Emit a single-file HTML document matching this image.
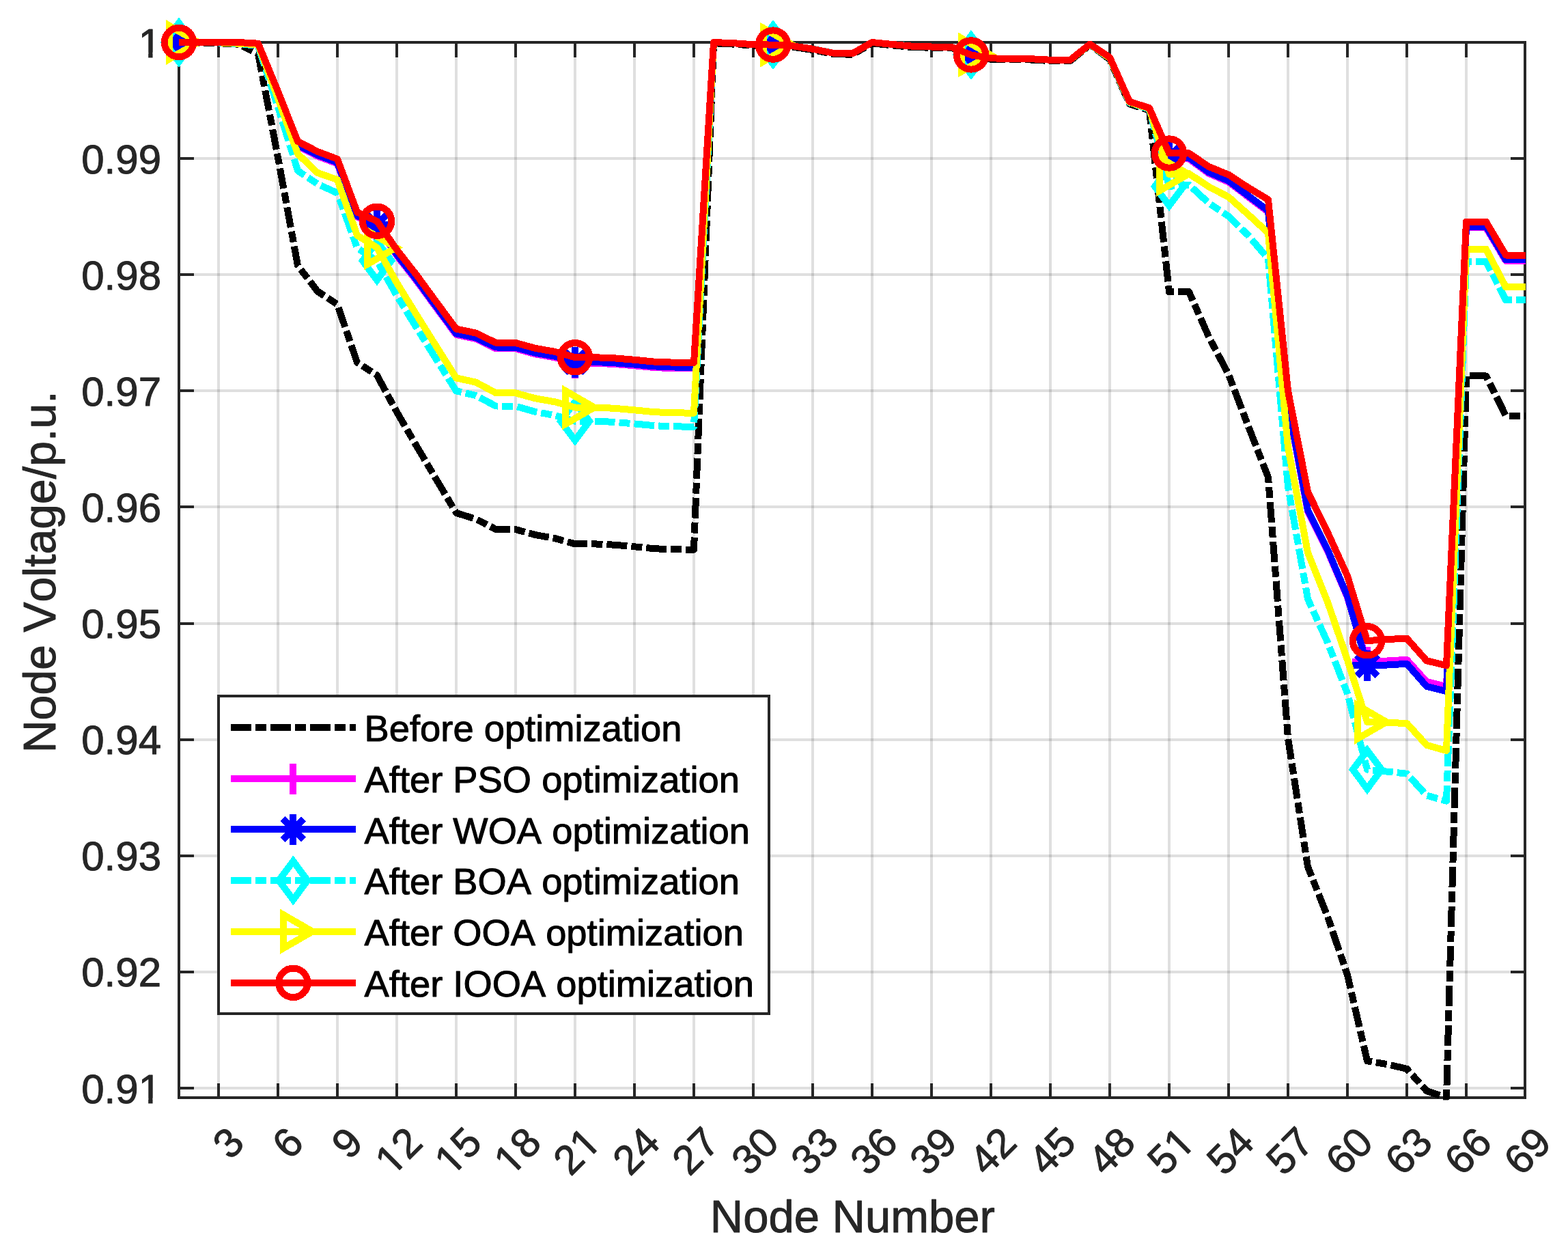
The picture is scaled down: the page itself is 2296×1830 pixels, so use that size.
<!DOCTYPE html>
<html lang="en"><head><meta charset="utf-8"><title>Node Voltage</title>
<style>html,body{margin:0;padding:0;background:#fff}body{width:2296px;height:1830px;overflow:hidden}svg{display:block}text{font-family:'Liberation Sans', sans-serif;stroke-width:1px;stroke-linejoin:round;font-kerning:none}</style>
</head><body>
<svg width="2296" height="1830" viewBox="0 0 2296 1830" shape-rendering="crispEdges" role="img" aria-label="Node voltage profile before and after optimization">
<rect width="2296" height="1830" fill="#fff"/>
<g stroke="#262626" stroke-opacity="0.15" stroke-width="4.0" fill="none">
<path d="M320.0,62.0 V1606.5"/>
<path d="M407.0,62.0 V1606.5"/>
<path d="M494.0,62.0 V1606.5"/>
<path d="M581.0,62.0 V1606.5"/>
<path d="M668.0,62.0 V1606.5"/>
<path d="M755.0,62.0 V1606.5"/>
<path d="M842.0,62.0 V1606.5"/>
<path d="M929.0,62.0 V1606.5"/>
<path d="M1016.0,62.0 V1606.5"/>
<path d="M1103.0,62.0 V1606.5"/>
<path d="M1190.0,62.0 V1606.5"/>
<path d="M1277.0,62.0 V1606.5"/>
<path d="M1364.0,62.0 V1606.5"/>
<path d="M1451.0,62.0 V1606.5"/>
<path d="M1538.0,62.0 V1606.5"/>
<path d="M1625.0,62.0 V1606.5"/>
<path d="M1712.0,62.0 V1606.5"/>
<path d="M1799.0,62.0 V1606.5"/>
<path d="M1886.0,62.0 V1606.5"/>
<path d="M1973.0,62.0 V1606.5"/>
<path d="M2060.0,62.0 V1606.5"/>
<path d="M2147.0,62.0 V1606.5"/>
<path d="M262.2,232.1 H2233.0"/>
<path d="M262.2,402.2 H2233.0"/>
<path d="M262.2,572.3 H2233.0"/>
<path d="M262.2,742.4 H2233.0"/>
<path d="M262.2,912.6 H2233.0"/>
<path d="M262.2,1082.7 H2233.0"/>
<path d="M262.2,1252.8 H2233.0"/>
<path d="M262.2,1422.9 H2233.0"/>
<path d="M262.2,1593.0 H2233.0"/>
</g>
<g stroke="#262626" stroke-width="4.0" fill="none" stroke-linecap="square">
<rect x="262.2" y="62.0" width="1970.8" height="1544.5"/>
</g>
<path d="M320.0,62.0 v21.5 M320.0,1606.5 v-20.5 M407.0,62.0 v21.5 M407.0,1606.5 v-20.5 M494.0,62.0 v21.5 M494.0,1606.5 v-20.5 M581.0,62.0 v21.5 M581.0,1606.5 v-20.5 M668.0,62.0 v21.5 M668.0,1606.5 v-20.5 M755.0,62.0 v21.5 M755.0,1606.5 v-20.5 M842.0,62.0 v21.5 M842.0,1606.5 v-20.5 M929.0,62.0 v21.5 M929.0,1606.5 v-20.5 M1016.0,62.0 v21.5 M1016.0,1606.5 v-20.5 M1103.0,62.0 v21.5 M1103.0,1606.5 v-20.5 M1190.0,62.0 v21.5 M1190.0,1606.5 v-20.5 M1277.0,62.0 v21.5 M1277.0,1606.5 v-20.5 M1364.0,62.0 v21.5 M1364.0,1606.5 v-20.5 M1451.0,62.0 v21.5 M1451.0,1606.5 v-20.5 M1538.0,62.0 v21.5 M1538.0,1606.5 v-20.5 M1625.0,62.0 v21.5 M1625.0,1606.5 v-20.5 M1712.0,62.0 v21.5 M1712.0,1606.5 v-20.5 M1799.0,62.0 v21.5 M1799.0,1606.5 v-20.5 M1886.0,62.0 v21.5 M1886.0,1606.5 v-20.5 M1973.0,62.0 v21.5 M1973.0,1606.5 v-20.5 M2060.0,62.0 v21.5 M2060.0,1606.5 v-20.5 M2147.0,62.0 v21.5 M2147.0,1606.5 v-20.5 M262.2,232.1 h21.5 M2233.0,232.1 h-21.5 M262.2,402.2 h21.5 M2233.0,402.2 h-21.5 M262.2,572.3 h21.5 M2233.0,572.3 h-21.5 M262.2,742.4 h21.5 M2233.0,742.4 h-21.5 M262.2,912.6 h21.5 M2233.0,912.6 h-21.5 M262.2,1082.7 h21.5 M2233.0,1082.7 h-21.5 M262.2,1252.8 h21.5 M2233.0,1252.8 h-21.5 M262.2,1422.9 h21.5 M2233.0,1422.9 h-21.5 M262.2,1593.0 h21.5 M2233.0,1593.0 h-21.5" stroke="#262626" stroke-width="4.0" fill="none"/>
<g fill="#262626" stroke="#262626" font-size="60.0px">
<g transform="translate(236.0,83.5)"><text text-anchor="end">1</text><g fill="#fff" stroke="none" shape-rendering="geometricPrecision"><rect x="-30.30" y="-6.88" width="11.47" height="10.08"/><rect x="-12.43" y="-6.88" width="11.00" height="10.08"/></g></g>
<text x="236.0" y="253.6" text-anchor="end">0.99</text>
<text x="236.0" y="423.7" text-anchor="end">0.98</text>
<text x="236.0" y="593.8" text-anchor="end">0.97</text>
<text x="236.0" y="763.9" text-anchor="end">0.96</text>
<text x="236.0" y="934.1" text-anchor="end">0.95</text>
<text x="236.0" y="1104.2" text-anchor="end">0.94</text>
<text x="236.0" y="1274.3" text-anchor="end">0.93</text>
<text x="236.0" y="1444.4" text-anchor="end">0.92</text>
<g transform="translate(236.0,1614.5)"><text text-anchor="end">0.91</text><g fill="#fff" stroke="none" shape-rendering="geometricPrecision"><rect x="-30.30" y="-6.88" width="11.47" height="10.08"/><rect x="-12.43" y="-6.88" width="11.00" height="10.08"/></g></g>
<text transform="translate(360.6,1676.0) rotate(-45)" text-anchor="end">3</text>
<text transform="translate(447.6,1676.0) rotate(-45)" text-anchor="end">6</text>
<text transform="translate(534.6,1676.0) rotate(-45)" text-anchor="end">9</text>
<g transform="translate(621.6,1676.0) rotate(-45)"><text text-anchor="end">12</text><g fill="#fff" stroke="none" shape-rendering="geometricPrecision"><rect x="-63.67" y="-6.88" width="11.47" height="10.08"/><rect x="-45.80" y="-6.88" width="11.00" height="10.08"/></g></g>
<g transform="translate(708.6,1676.0) rotate(-45)"><text text-anchor="end">15</text><g fill="#fff" stroke="none" shape-rendering="geometricPrecision"><rect x="-63.67" y="-6.88" width="11.47" height="10.08"/><rect x="-45.80" y="-6.88" width="11.00" height="10.08"/></g></g>
<g transform="translate(795.6,1676.0) rotate(-45)"><text text-anchor="end">18</text><g fill="#fff" stroke="none" shape-rendering="geometricPrecision"><rect x="-63.67" y="-6.88" width="11.47" height="10.08"/><rect x="-45.80" y="-6.88" width="11.00" height="10.08"/></g></g>
<g transform="translate(882.6,1676.0) rotate(-45)"><text text-anchor="end">21</text><g fill="#fff" stroke="none" shape-rendering="geometricPrecision"><rect x="-30.30" y="-6.88" width="11.47" height="10.08"/><rect x="-12.43" y="-6.88" width="11.00" height="10.08"/></g></g>
<text transform="translate(969.6,1676.0) rotate(-45)" text-anchor="end">24</text>
<text transform="translate(1056.6,1676.0) rotate(-45)" text-anchor="end">27</text>
<text transform="translate(1143.6,1676.0) rotate(-45)" text-anchor="end">30</text>
<text transform="translate(1230.6,1676.0) rotate(-45)" text-anchor="end">33</text>
<text transform="translate(1317.6,1676.0) rotate(-45)" text-anchor="end">36</text>
<text transform="translate(1404.6,1676.0) rotate(-45)" text-anchor="end">39</text>
<text transform="translate(1491.6,1676.0) rotate(-45)" text-anchor="end">42</text>
<text transform="translate(1578.6,1676.0) rotate(-45)" text-anchor="end">45</text>
<text transform="translate(1665.6,1676.0) rotate(-45)" text-anchor="end">48</text>
<g transform="translate(1752.6,1676.0) rotate(-45)"><text text-anchor="end">51</text><g fill="#fff" stroke="none" shape-rendering="geometricPrecision"><rect x="-30.30" y="-6.88" width="11.47" height="10.08"/><rect x="-12.43" y="-6.88" width="11.00" height="10.08"/></g></g>
<text transform="translate(1839.6,1676.0) rotate(-45)" text-anchor="end">54</text>
<text transform="translate(1926.6,1676.0) rotate(-45)" text-anchor="end">57</text>
<text transform="translate(2013.6,1676.0) rotate(-45)" text-anchor="end">60</text>
<text transform="translate(2100.6,1676.0) rotate(-45)" text-anchor="end">63</text>
<text transform="translate(2187.6,1676.0) rotate(-45)" text-anchor="end">66</text>
<text transform="translate(2274.6,1676.0) rotate(-45)" text-anchor="end">69</text>
</g>
<text transform="translate(1248.3,1803.7) scale(1.0000,1)" text-anchor="middle" font-size="67.0px" fill="#262626" stroke="#262626">Node Number</text>
<text transform="translate(80.7,837.3) rotate(-90) scale(0.9880,1)" text-anchor="middle" font-size="67.0px" fill="#262626" stroke="#262626">Node Voltage/p.u.</text>
<defs><clipPath id="cp"><rect x="260.2" y="56.0" width="1974.8" height="1554.5"/></clipPath></defs>
<path d="M262.0,62.0 L291.0,62.5 L320.0,63.2 L349.0,64.7 L378.0,78.7 L407.0,230.6 L436.0,388.8 L465.0,426.5 L494.0,445.8 L523.0,530.7 L552.0,549.4 L581.0,603.1 L610.0,653.0 L639.0,702.1 L668.0,750.9 L697.0,760.0 L726.0,774.9 L755.0,775.1 L784.0,783.1 L813.0,788.2 L842.0,796.4 L871.0,796.4 L900.0,797.7 L929.0,800.3 L958.0,803.2 L987.0,804.4 L1016.0,804.7 L1045.0,63.2 L1074.0,64.6 L1103.0,66.6 L1132.0,66.9 L1161.0,68.6 L1190.0,73.1 L1219.0,78.8 L1248.0,79.9 L1277.0,63.4 L1306.0,66.3 L1335.0,69.0 L1364.0,69.8 L1393.0,69.8 L1422.0,81.7 L1451.0,86.7 L1480.0,87.3 L1509.0,87.5 L1538.0,89.0 L1567.0,89.2 L1596.0,65.6 L1625.0,86.8 L1654.0,152.2 L1683.0,161.5 L1712.0,427.1 L1741.0,427.2 L1770.0,493.1 L1799.0,548.3 L1828.0,624.4 L1857.0,698.7 L1886.0,1081.0 L1915.0,1269.1 L1944.0,1341.9 L1973.0,1427.3 L2002.0,1553.2 L2031.0,1558.1 L2060.0,1564.8 L2089.0,1597.1 L2118.0,1606.8 L2147.0,550.4 L2176.0,550.4 L2205.0,608.7 L2234.0,608.7" fill="none" stroke="#000000" stroke-width="10.0" stroke-linejoin="round" stroke-miterlimit="4" stroke-dasharray="30 6 16 6" clip-path="url(#cp)"/>
<path d="M262.0,62.0 L291.0,62.0 L320.0,62.0 L349.0,62.0 L378.0,63.7 L407.0,140.8 L436.0,213.9 L465.0,228.7 L494.0,239.6 L523.0,317.5 L552.0,330.6 L581.0,374.2 L610.0,411.2 L639.0,450.8 L668.0,490.0 L697.0,496.1 L726.0,510.2 L755.0,510.4 L784.0,518.4 L813.0,523.5 L842.0,531.7 L871.0,531.7 L900.0,533.0 L929.0,535.3 L958.0,538.1 L987.0,539.2 L1016.0,539.5 L1045.0,62.0 L1074.0,63.2 L1103.0,65.2 L1132.0,65.6 L1161.0,67.3 L1190.0,71.7 L1219.0,77.5 L1248.0,78.5 L1277.0,62.0 L1306.0,64.9 L1335.0,67.6 L1364.0,68.5 L1393.0,68.5 L1422.0,80.4 L1451.0,85.3 L1480.0,86.0 L1509.0,86.2 L1538.0,87.7 L1567.0,87.9 L1596.0,64.6 L1625.0,84.1 L1654.0,148.8 L1683.0,158.1 L1712.0,231.3 L1741.0,232.5 L1770.0,253.9 L1799.0,266.5 L1828.0,288.4 L1857.0,310.2 L1886.0,592.7 L1915.0,748.6 L1944.0,806.6 L1973.0,874.6 L2002.0,969.2 L2031.0,967.5 L2060.0,965.8 L2089.0,998.0 L2118.0,1005.3 L2147.0,333.2 L2176.0,333.2 L2205.0,382.1 L2234.0,382.1" fill="none" stroke="#ff00ff" stroke-width="10.0" stroke-linejoin="round" stroke-miterlimit="4" clip-path="url(#cp)"/>
<path d="M239.5,62.0 H284.5 M262.0,39.5 V84.5" fill="none" stroke="#ff00ff" stroke-width="10.0" stroke-linejoin="miter" stroke-miterlimit="10"/>
<path d="M529.5,330.6 H574.5 M552.0,308.1 V353.1" fill="none" stroke="#ff00ff" stroke-width="10.0" stroke-linejoin="miter" stroke-miterlimit="10"/>
<path d="M819.5,531.7 H864.5 M842.0,509.2 V554.2" fill="none" stroke="#ff00ff" stroke-width="10.0" stroke-linejoin="miter" stroke-miterlimit="10"/>
<path d="M1109.5,65.6 H1154.5 M1132.0,43.1 V88.1" fill="none" stroke="#ff00ff" stroke-width="10.0" stroke-linejoin="miter" stroke-miterlimit="10"/>
<path d="M1399.5,80.4 H1444.5 M1422.0,57.9 V102.9" fill="none" stroke="#ff00ff" stroke-width="10.0" stroke-linejoin="miter" stroke-miterlimit="10"/>
<path d="M1689.5,231.3 H1734.5 M1712.0,208.8 V253.8" fill="none" stroke="#ff00ff" stroke-width="10.0" stroke-linejoin="miter" stroke-miterlimit="10"/>
<path d="M1979.5,969.2 H2024.5 M2002.0,946.7 V991.7" fill="none" stroke="#ff00ff" stroke-width="10.0" stroke-linejoin="miter" stroke-miterlimit="10"/>
<path d="M262.0,62.0 L291.0,62.0 L320.0,62.0 L349.0,62.0 L378.0,63.7 L407.0,139.1 L436.0,212.2 L465.0,227.0 L494.0,237.9 L523.0,315.8 L552.0,328.9 L581.0,372.5 L610.0,409.5 L639.0,449.1 L668.0,488.3 L697.0,494.4 L726.0,508.5 L755.0,508.7 L784.0,516.7 L813.0,521.8 L842.0,530.0 L871.0,530.0 L900.0,531.3 L929.0,533.6 L958.0,536.4 L987.0,537.5 L1016.0,537.8 L1045.0,62.0 L1074.0,63.2 L1103.0,65.2 L1132.0,65.6 L1161.0,67.3 L1190.0,71.7 L1219.0,77.5 L1248.0,78.5 L1277.0,62.0 L1306.0,64.9 L1335.0,67.6 L1364.0,68.5 L1393.0,68.5 L1422.0,80.4 L1451.0,85.3 L1480.0,86.0 L1509.0,86.2 L1538.0,87.7 L1567.0,87.9 L1596.0,64.6 L1625.0,84.1 L1654.0,148.8 L1683.0,158.1 L1712.0,229.6 L1741.0,230.8 L1770.0,252.2 L1799.0,264.8 L1828.0,286.7 L1857.0,308.5 L1886.0,591.0 L1915.0,746.9 L1944.0,804.9 L1973.0,872.9 L2002.0,974.3 L2031.0,973.5 L2060.0,971.8 L2089.0,1004.8 L2118.0,1012.1 L2147.0,331.5 L2176.0,331.5 L2205.0,380.4 L2234.0,380.4" fill="none" stroke="#0000ff" stroke-width="10.0" stroke-linejoin="round" stroke-miterlimit="4" clip-path="url(#cp)"/>
<path d="M239.5,62.0 H284.5 M262.0,39.5 V84.5 M246.8,46.8 L277.2,77.2 M246.8,77.2 L277.2,46.8" fill="none" stroke="#0000ff" stroke-width="10.0" stroke-linejoin="miter" stroke-miterlimit="10"/>
<path d="M529.5,328.9 H574.5 M552.0,306.4 V351.4 M536.8,313.7 L567.2,344.1 M536.8,344.1 L567.2,313.7" fill="none" stroke="#0000ff" stroke-width="10.0" stroke-linejoin="miter" stroke-miterlimit="10"/>
<path d="M819.5,530.0 H864.5 M842.0,507.5 V552.5 M826.8,514.8 L857.2,545.2 M826.8,545.2 L857.2,514.8" fill="none" stroke="#0000ff" stroke-width="10.0" stroke-linejoin="miter" stroke-miterlimit="10"/>
<path d="M1109.5,65.6 H1154.5 M1132.0,43.1 V88.1 M1116.8,50.4 L1147.2,80.8 M1116.8,80.8 L1147.2,50.4" fill="none" stroke="#0000ff" stroke-width="10.0" stroke-linejoin="miter" stroke-miterlimit="10"/>
<path d="M1399.5,80.4 H1444.5 M1422.0,57.9 V102.9 M1406.8,65.2 L1437.2,95.6 M1406.8,95.6 L1437.2,65.2" fill="none" stroke="#0000ff" stroke-width="10.0" stroke-linejoin="miter" stroke-miterlimit="10"/>
<path d="M1689.5,229.6 H1734.5 M1712.0,207.1 V252.1 M1696.8,214.4 L1727.2,244.8 M1696.8,244.8 L1727.2,214.4" fill="none" stroke="#0000ff" stroke-width="10.0" stroke-linejoin="miter" stroke-miterlimit="10"/>
<path d="M1979.5,974.3 H2024.5 M2002.0,951.8 V996.8 M1986.8,959.1 L2017.2,989.5 M1986.8,989.5 L2017.2,959.1" fill="none" stroke="#0000ff" stroke-width="10.0" stroke-linejoin="miter" stroke-miterlimit="10"/>
<path d="M262.0,62.0 L291.0,62.0 L320.0,62.5 L349.0,64.0 L378.0,67.1 L407.0,156.6 L436.0,249.8 L465.0,269.5 L494.0,282.5 L523.0,363.1 L552.0,381.8 L581.0,432.8 L610.0,479.9 L639.0,526.3 L668.0,572.3 L697.0,579.1 L726.0,594.5 L755.0,594.7 L784.0,602.9 L813.0,608.2 L842.0,616.6 L871.0,616.6 L900.0,617.9 L929.0,620.4 L958.0,623.2 L987.0,624.4 L1016.0,624.7 L1045.0,62.0 L1074.0,63.2 L1103.0,65.2 L1132.0,65.6 L1161.0,67.3 L1190.0,71.7 L1219.0,77.5 L1248.0,78.5 L1277.0,62.0 L1306.0,64.9 L1335.0,67.6 L1364.0,68.5 L1393.0,68.5 L1422.0,80.4 L1451.0,85.3 L1480.0,86.0 L1509.0,86.2 L1538.0,87.7 L1567.0,87.9 L1596.0,65.1 L1625.0,85.5 L1654.0,150.5 L1683.0,159.8 L1712.0,272.9 L1741.0,270.6 L1770.0,297.3 L1799.0,316.5 L1828.0,344.9 L1857.0,378.9 L1886.0,712.7 L1915.0,877.0 L1944.0,940.6 L1973.0,1015.1 L2002.0,1126.7 L2031.0,1129.6 L2060.0,1132.7 L2089.0,1164.5 L2118.0,1172.7 L2147.0,382.7 L2176.0,382.7 L2205.0,439.3 L2234.0,439.3" fill="none" stroke="#00ffff" stroke-width="10.0" stroke-linejoin="round" stroke-miterlimit="4" stroke-dasharray="30 6 16 6" clip-path="url(#cp)"/>
<path d="M262.0,33.8 L283.0,62.0 L262.0,90.2 L241.0,62.0 Z" fill="none" stroke="#00ffff" stroke-width="10.0" stroke-linejoin="miter" stroke-miterlimit="10"/>
<path d="M552.0,353.6 L573.0,381.8 L552.0,410.0 L531.0,381.8 Z" fill="none" stroke="#00ffff" stroke-width="10.0" stroke-linejoin="miter" stroke-miterlimit="10"/>
<path d="M842.0,588.4 L863.0,616.6 L842.0,644.8 L821.0,616.6 Z" fill="none" stroke="#00ffff" stroke-width="10.0" stroke-linejoin="miter" stroke-miterlimit="10"/>
<path d="M1132.0,37.4 L1153.0,65.6 L1132.0,93.8 L1111.0,65.6 Z" fill="none" stroke="#00ffff" stroke-width="10.0" stroke-linejoin="miter" stroke-miterlimit="10"/>
<path d="M1422.0,52.2 L1443.0,80.4 L1422.0,108.6 L1401.0,80.4 Z" fill="none" stroke="#00ffff" stroke-width="10.0" stroke-linejoin="miter" stroke-miterlimit="10"/>
<path d="M1712.0,244.7 L1733.0,272.9 L1712.0,301.1 L1691.0,272.9 Z" fill="none" stroke="#00ffff" stroke-width="10.0" stroke-linejoin="miter" stroke-miterlimit="10"/>
<path d="M2002.0,1098.5 L2023.0,1126.7 L2002.0,1154.9 L1981.0,1126.7 Z" fill="none" stroke="#00ffff" stroke-width="10.0" stroke-linejoin="miter" stroke-miterlimit="10"/>
<path d="M262.0,62.0 L291.0,62.0 L320.0,62.3 L349.0,63.7 L378.0,65.4 L407.0,143.7 L436.0,225.3 L465.0,253.0 L494.0,263.1 L523.0,344.6 L552.0,362.5 L581.0,414.1 L610.0,461.0 L639.0,507.3 L668.0,553.3 L697.0,559.7 L726.0,575.2 L755.0,575.4 L784.0,583.3 L813.0,588.4 L842.0,596.5 L871.0,596.5 L900.0,597.8 L929.0,600.3 L958.0,603.2 L987.0,604.3 L1016.0,604.7 L1045.0,62.0 L1074.0,63.2 L1103.0,65.2 L1132.0,65.6 L1161.0,67.3 L1190.0,71.7 L1219.0,77.5 L1248.0,78.5 L1277.0,62.0 L1306.0,64.9 L1335.0,67.6 L1364.0,68.5 L1393.0,68.5 L1422.0,80.4 L1451.0,85.3 L1480.0,86.0 L1509.0,86.2 L1538.0,87.7 L1567.0,87.9 L1596.0,64.9 L1625.0,85.0 L1654.0,149.6 L1683.0,159.0 L1712.0,254.9 L1741.0,254.2 L1770.0,273.4 L1799.0,288.4 L1828.0,314.3 L1857.0,341.0 L1886.0,654.7 L1915.0,809.1 L1944.0,881.4 L1973.0,966.1 L2002.0,1057.0 L2031.0,1058.0 L2060.0,1058.9 L2089.0,1090.8 L2118.0,1099.0 L2147.0,364.8 L2176.0,364.8 L2205.0,420.4 L2234.0,420.4" fill="none" stroke="#ffff00" stroke-width="10.0" stroke-linejoin="round" stroke-miterlimit="4" clip-path="url(#cp)"/>
<path d="M248.0,37.7 L290.1,62.0 L248.0,86.3 Z" fill="none" stroke="#ffff00" stroke-width="10.0" stroke-linejoin="miter" stroke-miterlimit="10"/>
<path d="M538.0,338.2 L580.1,362.5 L538.0,386.8 Z" fill="none" stroke="#ffff00" stroke-width="10.0" stroke-linejoin="miter" stroke-miterlimit="10"/>
<path d="M828.0,572.2 L870.1,596.5 L828.0,620.8 Z" fill="none" stroke="#ffff00" stroke-width="10.0" stroke-linejoin="miter" stroke-miterlimit="10"/>
<path d="M1118.0,41.3 L1160.1,65.6 L1118.0,89.9 Z" fill="none" stroke="#ffff00" stroke-width="10.0" stroke-linejoin="miter" stroke-miterlimit="10"/>
<path d="M1408.0,56.1 L1450.1,80.4 L1408.0,104.7 Z" fill="none" stroke="#ffff00" stroke-width="10.0" stroke-linejoin="miter" stroke-miterlimit="10"/>
<path d="M1698.0,230.6 L1740.1,254.9 L1698.0,279.2 Z" fill="none" stroke="#ffff00" stroke-width="10.0" stroke-linejoin="miter" stroke-miterlimit="10"/>
<path d="M1988.0,1032.7 L2030.1,1057.0 L1988.0,1081.3 Z" fill="none" stroke="#ffff00" stroke-width="10.0" stroke-linejoin="miter" stroke-miterlimit="10"/>
<path d="M262.0,62.0 L291.0,62.0 L320.0,62.0 L349.0,62.0 L378.0,63.7 L407.0,133.9 L436.0,207.1 L465.0,221.9 L494.0,232.8 L523.0,310.7 L552.0,323.8 L581.0,365.6 L610.0,402.7 L639.0,442.3 L668.0,481.5 L697.0,487.6 L726.0,501.7 L755.0,501.9 L784.0,509.9 L813.0,515.0 L842.0,523.2 L871.0,523.2 L900.0,524.4 L929.0,526.8 L958.0,529.6 L987.0,530.7 L1016.0,531.0 L1045.0,62.0 L1074.0,63.2 L1103.0,65.2 L1132.0,65.6 L1161.0,67.3 L1190.0,71.7 L1219.0,77.5 L1248.0,78.5 L1277.0,62.0 L1306.0,64.9 L1335.0,67.6 L1364.0,68.5 L1393.0,68.5 L1422.0,80.4 L1451.0,85.3 L1480.0,86.0 L1509.0,86.2 L1538.0,87.7 L1567.0,87.9 L1596.0,64.6 L1625.0,84.1 L1654.0,148.8 L1683.0,158.1 L1712.0,224.5 L1741.0,224.3 L1770.0,244.0 L1799.0,255.8 L1828.0,274.8 L1857.0,292.2 L1886.0,572.3 L1915.0,720.3 L1944.0,779.4 L1973.0,843.2 L2002.0,938.2 L2031.0,936.0 L2060.0,934.7 L2089.0,967.3 L2118.0,974.3 L2147.0,324.7 L2176.0,324.7 L2205.0,373.6 L2234.0,373.6" fill="none" stroke="#ff0000" stroke-width="10.0" stroke-linejoin="round" stroke-miterlimit="4" clip-path="url(#cp)"/>
<circle cx="262.0" cy="62.0" r="21.2" fill="none" stroke="#ff0000" stroke-width="10.0" stroke-linejoin="miter" stroke-miterlimit="10"/>
<circle cx="552.0" cy="323.8" r="21.2" fill="none" stroke="#ff0000" stroke-width="10.0" stroke-linejoin="miter" stroke-miterlimit="10"/>
<circle cx="842.0" cy="523.2" r="21.2" fill="none" stroke="#ff0000" stroke-width="10.0" stroke-linejoin="miter" stroke-miterlimit="10"/>
<circle cx="1132.0" cy="65.6" r="21.2" fill="none" stroke="#ff0000" stroke-width="10.0" stroke-linejoin="miter" stroke-miterlimit="10"/>
<circle cx="1422.0" cy="80.4" r="21.2" fill="none" stroke="#ff0000" stroke-width="10.0" stroke-linejoin="miter" stroke-miterlimit="10"/>
<circle cx="1712.0" cy="224.5" r="21.2" fill="none" stroke="#ff0000" stroke-width="10.0" stroke-linejoin="miter" stroke-miterlimit="10"/>
<circle cx="2002.0" cy="938.2" r="21.2" fill="none" stroke="#ff0000" stroke-width="10.0" stroke-linejoin="miter" stroke-miterlimit="10"/>
<rect x="320.0" y="1019.0" width="806.0" height="465.0" fill="#fff" stroke="#262626" stroke-width="4.0"/>
<path d="M338,1065.0 H521" fill="none" stroke="#000000" stroke-width="10.0" stroke-dasharray="30 6 16 6"/>
<text transform="translate(533.6,1085.4) scale(1.0210,1)" font-size="53.2px" fill="#000" stroke="#000">Before optimization</text>
<path d="M338,1140.0 H521" fill="none" stroke="#ff00ff" stroke-width="10.0"/>
<path d="M406.8,1140.0 H451.8 M429.3,1117.5 V1162.5" fill="none" stroke="#ff00ff" stroke-width="10.0" stroke-linejoin="miter" stroke-miterlimit="10"/>
<text transform="translate(533.6,1160.0) scale(1.0210,1)" font-size="53.2px" fill="#000" stroke="#000">After PSO optimization</text>
<path d="M338,1214.0 H521" fill="none" stroke="#0000ff" stroke-width="10.0"/>
<path d="M406.8,1214.0 H451.8 M429.3,1191.5 V1236.5 M414.1,1198.8 L444.5,1229.2 M414.1,1229.2 L444.5,1198.8" fill="none" stroke="#0000ff" stroke-width="10.0" stroke-linejoin="miter" stroke-miterlimit="10"/>
<text transform="translate(533.6,1234.6) scale(1.0210,1)" font-size="53.2px" fill="#000" stroke="#000">After WOA optimization</text>
<path d="M338,1289.0 H521" fill="none" stroke="#00ffff" stroke-width="10.0" stroke-dasharray="30 6 16 6"/>
<path d="M429.3,1260.8 L450.3,1289.0 L429.3,1317.2 L408.3,1289.0 Z" fill="none" stroke="#00ffff" stroke-width="10.0" stroke-linejoin="miter" stroke-miterlimit="10"/>
<text transform="translate(533.6,1309.3) scale(1.0210,1)" font-size="53.2px" fill="#000" stroke="#000">After BOA optimization</text>
<path d="M338,1363.7 H521" fill="none" stroke="#ffff00" stroke-width="10.0"/>
<path d="M415.3,1339.4 L457.4,1363.7 L415.3,1388.0 Z" fill="none" stroke="#ffff00" stroke-width="10.0" stroke-linejoin="miter" stroke-miterlimit="10"/>
<text transform="translate(533.6,1383.9) scale(1.0210,1)" font-size="53.2px" fill="#000" stroke="#000">After OOA optimization</text>
<path d="M338,1438.8 H521" fill="none" stroke="#ff0000" stroke-width="10.0"/>
<circle cx="429.3" cy="1438.8" r="21.2" fill="none" stroke="#ff0000" stroke-width="10.0" stroke-linejoin="miter" stroke-miterlimit="10"/>
<text transform="translate(533.6,1458.5) scale(1.0210,1)" font-size="53.2px" fill="#000" stroke="#000">After IOOA optimization</text>
</svg></body></html>
